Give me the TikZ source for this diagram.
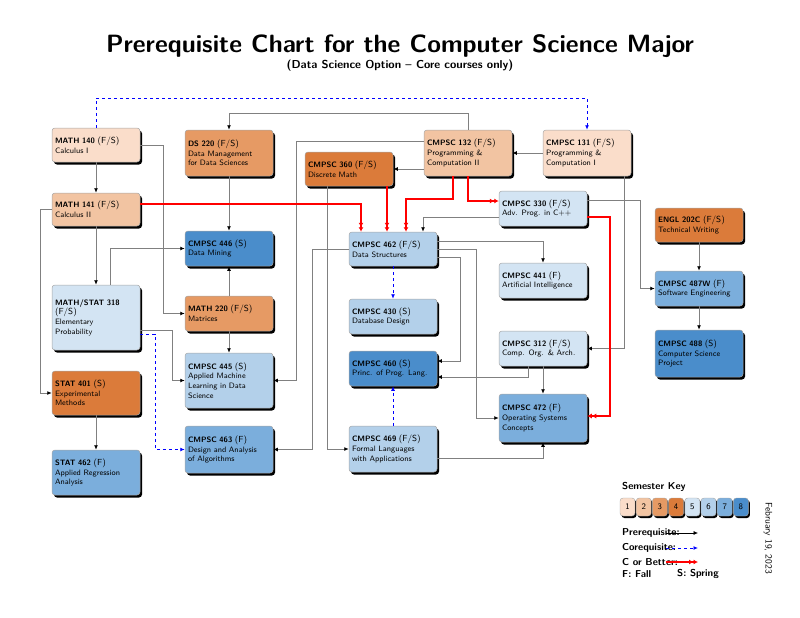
\documentclass[tikz,border=0pt]{standalone}
\usetikzlibrary{arrows.meta,shadows}
\renewcommand{\familydefault}{\sfdefault}
\definecolor{k1}{HTML}{FADDCA}
\definecolor{k2}{HTML}{F2C4A2}
\definecolor{k3}{HTML}{E69A64}
\definecolor{k4}{HTML}{DB7B3A}
\definecolor{k5}{HTML}{D3E4F3}
\definecolor{k6}{HTML}{B3D0EA}
\definecolor{k7}{HTML}{7BAEDC}
\definecolor{k8}{HTML}{4A8DCB}
\definecolor{ln}{HTML}{808080}
\tikzset{
 course/.style={draw=ln!70, rounded corners=3pt, line width=0.5pt, minimum width=88pt, text width=82pt, align=left, inner sep=3pt,
   font=\fontsize{7.8}{9.6}\selectfont, drop shadow={shadow xshift=2pt, shadow yshift=-2.5pt, fill=black, opacity=1}},
 keybox/.style={draw=ln!70, rounded corners=3pt, minimum width=15pt, minimum height=18pt, inner sep=0pt, font=\fontsize{8.5}{9}\selectfont,
   drop shadow={shadow xshift=1.5pt, shadow yshift=-2pt, fill=black, opacity=1}},
 pre/.style={draw=ln, line width=0.9pt, -{Latex[length=4.5pt,width=4pt,black]}},
 co/.style={draw=blue, dashed, line width=1pt, -{Latex[length=4.5pt,width=4pt,blue]}},
 cb/.style={draw=red, line width=1.1pt, -{Latex[length=4.5pt,width=5pt,red]Latex[length=4.5pt,width=5pt,red]}},
 lbl/.style={font=\fontsize{10}{12}\selectfont\bfseries, anchor=west, inner sep=0pt}
}
\newcommand{\crs}[2]{\textbf{#1} {\fontsize{8.8}{9.6}\selectfont(#2)}}
\begin{document}
\begin{tikzpicture}[x=1pt,y=-1pt]
\useasboundingbox (0,0) rectangle (800,618);
\node[font=\fontsize{25}{30}\selectfont\bfseries] (title) at (400,46) {Prerequisite Chart for the Computer Science Major};
\node[font=\fontsize{11.5}{13}\selectfont\bfseries] (sub) at (400,66) {(Data Science Option -- Core courses only)};

\node[course,fill=k1,minimum height=34pt] (m140) at (96,145) {\crs{MATH 140}{F/S}\\Calculus I};
\node[course,fill=k2,minimum height=33pt] (m141) at (96,209.5) {\crs{MATH 141}{F/S}\\Calculus II};
\node[course,fill=k5,minimum height=65pt] (m318) at (96,317.5) {\textbf{MATH/STAT 318}\\{\fontsize{8.8}{9.6}\selectfont(F/S)}\\Elementary\\Probability};
\node[course,fill=k4,minimum height=44pt] (s401) at (96,393) {\crs{STAT 401}{S}\\Experimental\\Methods};
\node[course,fill=k7,minimum height=45pt] (s462) at (96,472.5) {\crs{STAT 462}{F}\\Applied Regression\\Analysis};
\node[course,fill=k3,minimum height=46pt] (ds220) at (229,153) {\crs{DS 220}{F/S}\\Data Management\\for Data Sciences};
\node[course,fill=k8,minimum height=35pt] (c446) at (229,248.5) {\crs{CMPSC 446}{S}\\Data Mining};
\node[course,fill=k3,minimum height=35pt] (m220) at (229,313.5) {\crs{MATH 220}{F/S}\\Matrices};
\node[course,fill=k6,minimum height=55pt] (c445) at (229,380.5) {\crs{CMPSC 445}{S}\\Applied Machine\\Learning in Data\\Science};
\node[course,fill=k7,minimum height=47pt] (c463) at (229,449.5) {\crs{CMPSC 463}{F}\\Design and Analysis\\of Algorithms};
\node[course,fill=k4,minimum height=34pt] (c360) at (349,169) {\crs{CMPSC 360}{F/S}\\Discrete Math};
\node[course,fill=k2,minimum height=46pt] (c132) at (468,153) {\crs{CMPSC 132}{F/S}\\Programming \&\\Computation II};
\node[course,fill=k1,minimum height=46pt] (c131) at (587,153) {\crs{CMPSC 131}{F/S}\\Programming \&\\Computation I};
\node[course,fill=k5,minimum height=35pt] (c330) at (543,208.5) {\crs{CMPSC 330}{F/S}\\Adv. Prog. in C++};
\node[course,fill=k6,minimum height=34pt] (c462) at (393,249) {\crs{CMPSC 462}{F/S}\\Data Structures};
\node[course,fill=k5,minimum height=35pt] (c441) at (543,280.5) {\crs{CMPSC 441}{F}\\Artificial Intelligence};
\node[course,fill=k6,minimum height=35pt] (c430) at (393,316.5) {\crs{CMPSC 430}{S}\\Database Design};
\node[course,fill=k8,minimum height=35pt] (c460) at (393,368.5) {\crs{CMPSC 460}{S}\\Princ. of Prog. Lang.};
\node[course,fill=k5,minimum height=35pt] (c312) at (543,348.5) {\crs{CMPSC 312}{F/S}\\Comp. Org. \& Arch.};
\node[course,fill=k7,minimum height=48pt] (c472) at (543,418) {\crs{CMPSC 472}{F}\\Operating Systems\\Concepts};
\node[course,fill=k6,minimum height=46pt] (c469) at (393,449) {\crs{CMPSC 469}{F/S}\\Formal Languages\\with Applications};
\node[course,fill=k4,minimum height=34pt] (e202) at (699,225) {\crs{ENGL 202C}{F/S}\\Technical Writing};
\node[course,fill=k7,minimum height=35pt] (c487) at (699,288.5) {\crs{CMPSC 487W}{F}\\Software Engineering};
\node[course,fill=k8,minimum height=47pt] (c488) at (699,353.5) {\crs{CMPSC 488}{S}\\Computer Science\\Project};

% prerequisites
\draw[pre] (m140) -- (m141);
\draw[pre] (m141) -- (m318);
\draw[pre] (m140.east) -- (163,145) |- (m220.west);
\draw[pre] (m318.north -| 110,0) |- (c446.west);
\draw[pre] (m318.east |- 0,330) -- (172,330) |- (c445.west);
\draw[co]  (m318.east |- 0,334) -- (155,334) |- (c463.west);
\draw[pre] (m141.west) -- (40,209.5) |- (s401.west);
\draw[pre] (s401) -- (s462);
\draw[pre] (ds220) -- (c446);
\draw[pre] (m220) -- (c446);
\draw[pre] (m220) -- (c445);
\draw[pre] (c132.north) -- (468,113) -| (ds220.north);
\draw[co]  (m140.north) -- (96,98) -| (c131.north);
\draw[pre] (c131) -- (c132);
\draw[pre] (c132.west |- 0,169) -- (c360.east);
\draw[pre] (c132.west |- 0,141) -- (296,141) |- (c445.east);
\draw[pre] (c360.south -| 327,0) |- (c469.west);
\draw[pre] (c462.west) -- (312,249) |- (c463.east);
\draw[pre] (c330.west |- 0,217) -| (c462.north -| 423,0);
\draw[pre] (c330.east |- 0,200) -- (640,200) |- (c487.west);
\draw[pre] (c131.south -| 624,0) |- (c312.east);
\draw[pre] (c462.east |- 0,241) -| (c441.north);
\draw[pre] (c462.east |- 0,249) -- (476,249) |- (c472.west);
\draw[pre] (c462.east |- 0,257) -- (460,257) |- (c460.east |- 0,361);
\draw[pre] (c312) -- (c472);
\draw[pre] (c312.south -| 528,0) |- (c460.east |- 0,377);
\draw[pre] (c469.east |- 0,458) -| (c472.south);
\draw[co]  (c469) -- (c460);
\draw[co]  (c462) -- (c430);
\draw[pre] (e202) -- (c487);
\draw[pre] (c487) -- (c488);
% C or better
\draw[cb] (m141.east |- 0,204) -| (c462.north -| 361,0);
\draw[cb] (c360.south -| 387,0) -- (c462.north -| 387,0);
\draw[cb] (c132.south -| 453,0) -- (453,199) -| (c462.north -| 406,0);
\draw[cb] (c132.south -| 468,0) |- (c330.west |- 0,201);
\draw[cb] (c330.east |- 0,217) -- (610,217) |- (c472.east |- 0,416);

% key
\node[lbl] (keyt) at (622,487) {Semester Key};
\foreach \i/\c in {1/k1,2/k2,3/k3,4/k4,5/k5,6/k6,7/k7,8/k8}
  \node[keybox,fill=\c] (kb\i) at ({627.5+16.2*(\i-1)},507) {\i};
\node[lbl] (lp) at (622,533) {Prerequisite:};
\coordinate (lpa) at (666,533); \coordinate (lpb) at (698,533);
\draw[draw=black,line width=0.6pt,-{Latex[length=4.5pt,width=4pt]}] (lpa) -- (lpb);
\node[lbl] (lc) at (622,548) {Corequisite:};
\coordinate (lca) at (666,548); \coordinate (lcb) at (698,548);
\draw[co] (lca) -- (lcb);
\node[lbl] (lr) at (622,562) {C or Better:};
\coordinate (lra) at (666,562); \coordinate (lrb) at (698,562);
\draw[cb] (lra) -- (lrb);
\node[lbl] (lf) at (622,574) {F: Fall};
\node[lbl] (ls) at (677,574) {S: Spring};
\node[rotate=-90,font=\fontsize{9.5}{11}\selectfont] (date) at (768,538) {February 19, 2023};
\end{tikzpicture}
\end{document}
